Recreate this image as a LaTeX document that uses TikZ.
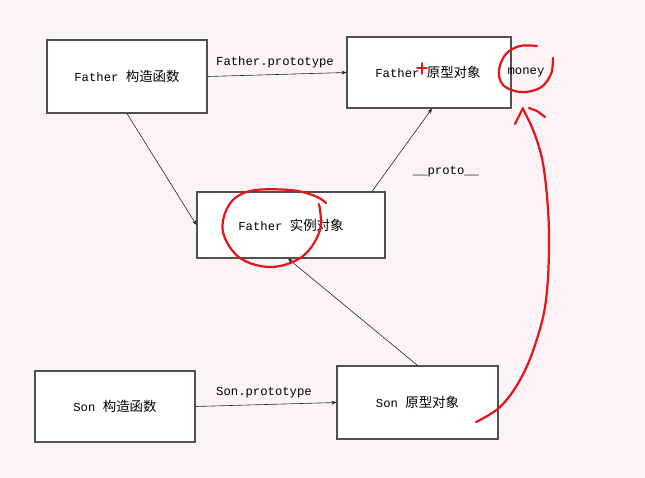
\documentclass[tikz,border=0pt]{standalone}
\usepackage{fontspec}
\setmainfont{Liberation Mono}
\newfontfamily\cjk{Noto Sans CJK SC}
\newcommand\zhtxt[1]{{\cjk\fontsize{13.5}{15}\selectfont #1}}
\usetikzlibrary{arrows.meta}
\definecolor{bgpink}{RGB}{252,243,247}
\definecolor{boxline}{RGB}{80,80,80}
\definecolor{ink}{RGB}{230,20,25}
\tikzset{
  box/.style={draw=boxline, line width=1.1bp, fill=white, inner sep=0pt, font=\fontsize{12.3}{15}\selectfont},
  conn/.style={draw=black!85, line width=0.6bp, -{Stealth[length=5bp,width=4bp]}},
  lbl/.style={font=\fontsize{12.3}{15}\selectfont, inner sep=0pt},
  pen/.style={draw=ink, line width=2.2bp, line cap=round, line join=round}
}
\begin{document}
\begin{tikzpicture}[x=1bp,y=-1bp]
\fill[bgpink] (0,0) rectangle (645,478);
\useasboundingbox (0,0) rectangle (645,478);

\node[box, minimum width=160bp, minimum height=73bp] (fc) at (127,76.5) {Father \zhtxt{构造函数}};
\node[box, minimum width=164bp, minimum height=71bp] (fp) at (429,72.5) {};
\node[lbl] (fpt) at (428,72) {Father \zhtxt{原型对象}};
\node[lbl] (money) at (526,72) {money};
\node[box, minimum width=188bp, minimum height=66bp] (fi) at (291,225) {Father \zhtxt{实例对象}};
\node[box, minimum width=160bp, minimum height=71bp] (sc) at (115,406.5) {Son \zhtxt{构造函数}};
\node[box, minimum width=161bp, minimum height=73bp] (sp) at (417.5,402.5) {Son \zhtxt{原型对象}};

\node[lbl] (l1) at (275,62) {Father.prototype};
\node[lbl] (l2) at (264,393) {Son.prototype};
\node[lbl] (l3) at (446,172) {\_\_proto\_\_};

\draw[conn] (fc.east) -- (fp.west);
\draw[conn] (sc.east) -- (sp.west);
\draw[conn] (fc.south) -- (fi.west);
\draw[conn] ([xshift=81bp]fi.north) -- ([xshift=3bp]fp.south);
\draw[conn] (sp.north) -- ([xshift=-3bp]fi.south);

% red hand annotations
\draw[pen, line width=1.8bp] (417,68) -- (427,68) (422,63) -- (422,74);
\draw[pen] plot[smooth, tension=0.6] coordinates {(537,46) (520,46) (506,54) (499,70) (503,85) (520,92) (540,88) (551,74) (553,58)};
\draw[pen] plot[smooth, tension=0.6] coordinates {(319,204) (320,230) (303,256) (272,267) (240,258) (223,232) (229,205) (250,191) (290,190) (315,196) (326,203)};
\draw[pen] plot[smooth, tension=0.6] coordinates {(476,422) (500,407) (520,380) (535,345) (546,300) (549,233) (544,170) (535,135) (523,109)};
\draw[pen] (515,124) -- (523,108);
\draw[pen] (529,108) -- (537,111) -- (545,117);
\end{tikzpicture}
\end{document}
